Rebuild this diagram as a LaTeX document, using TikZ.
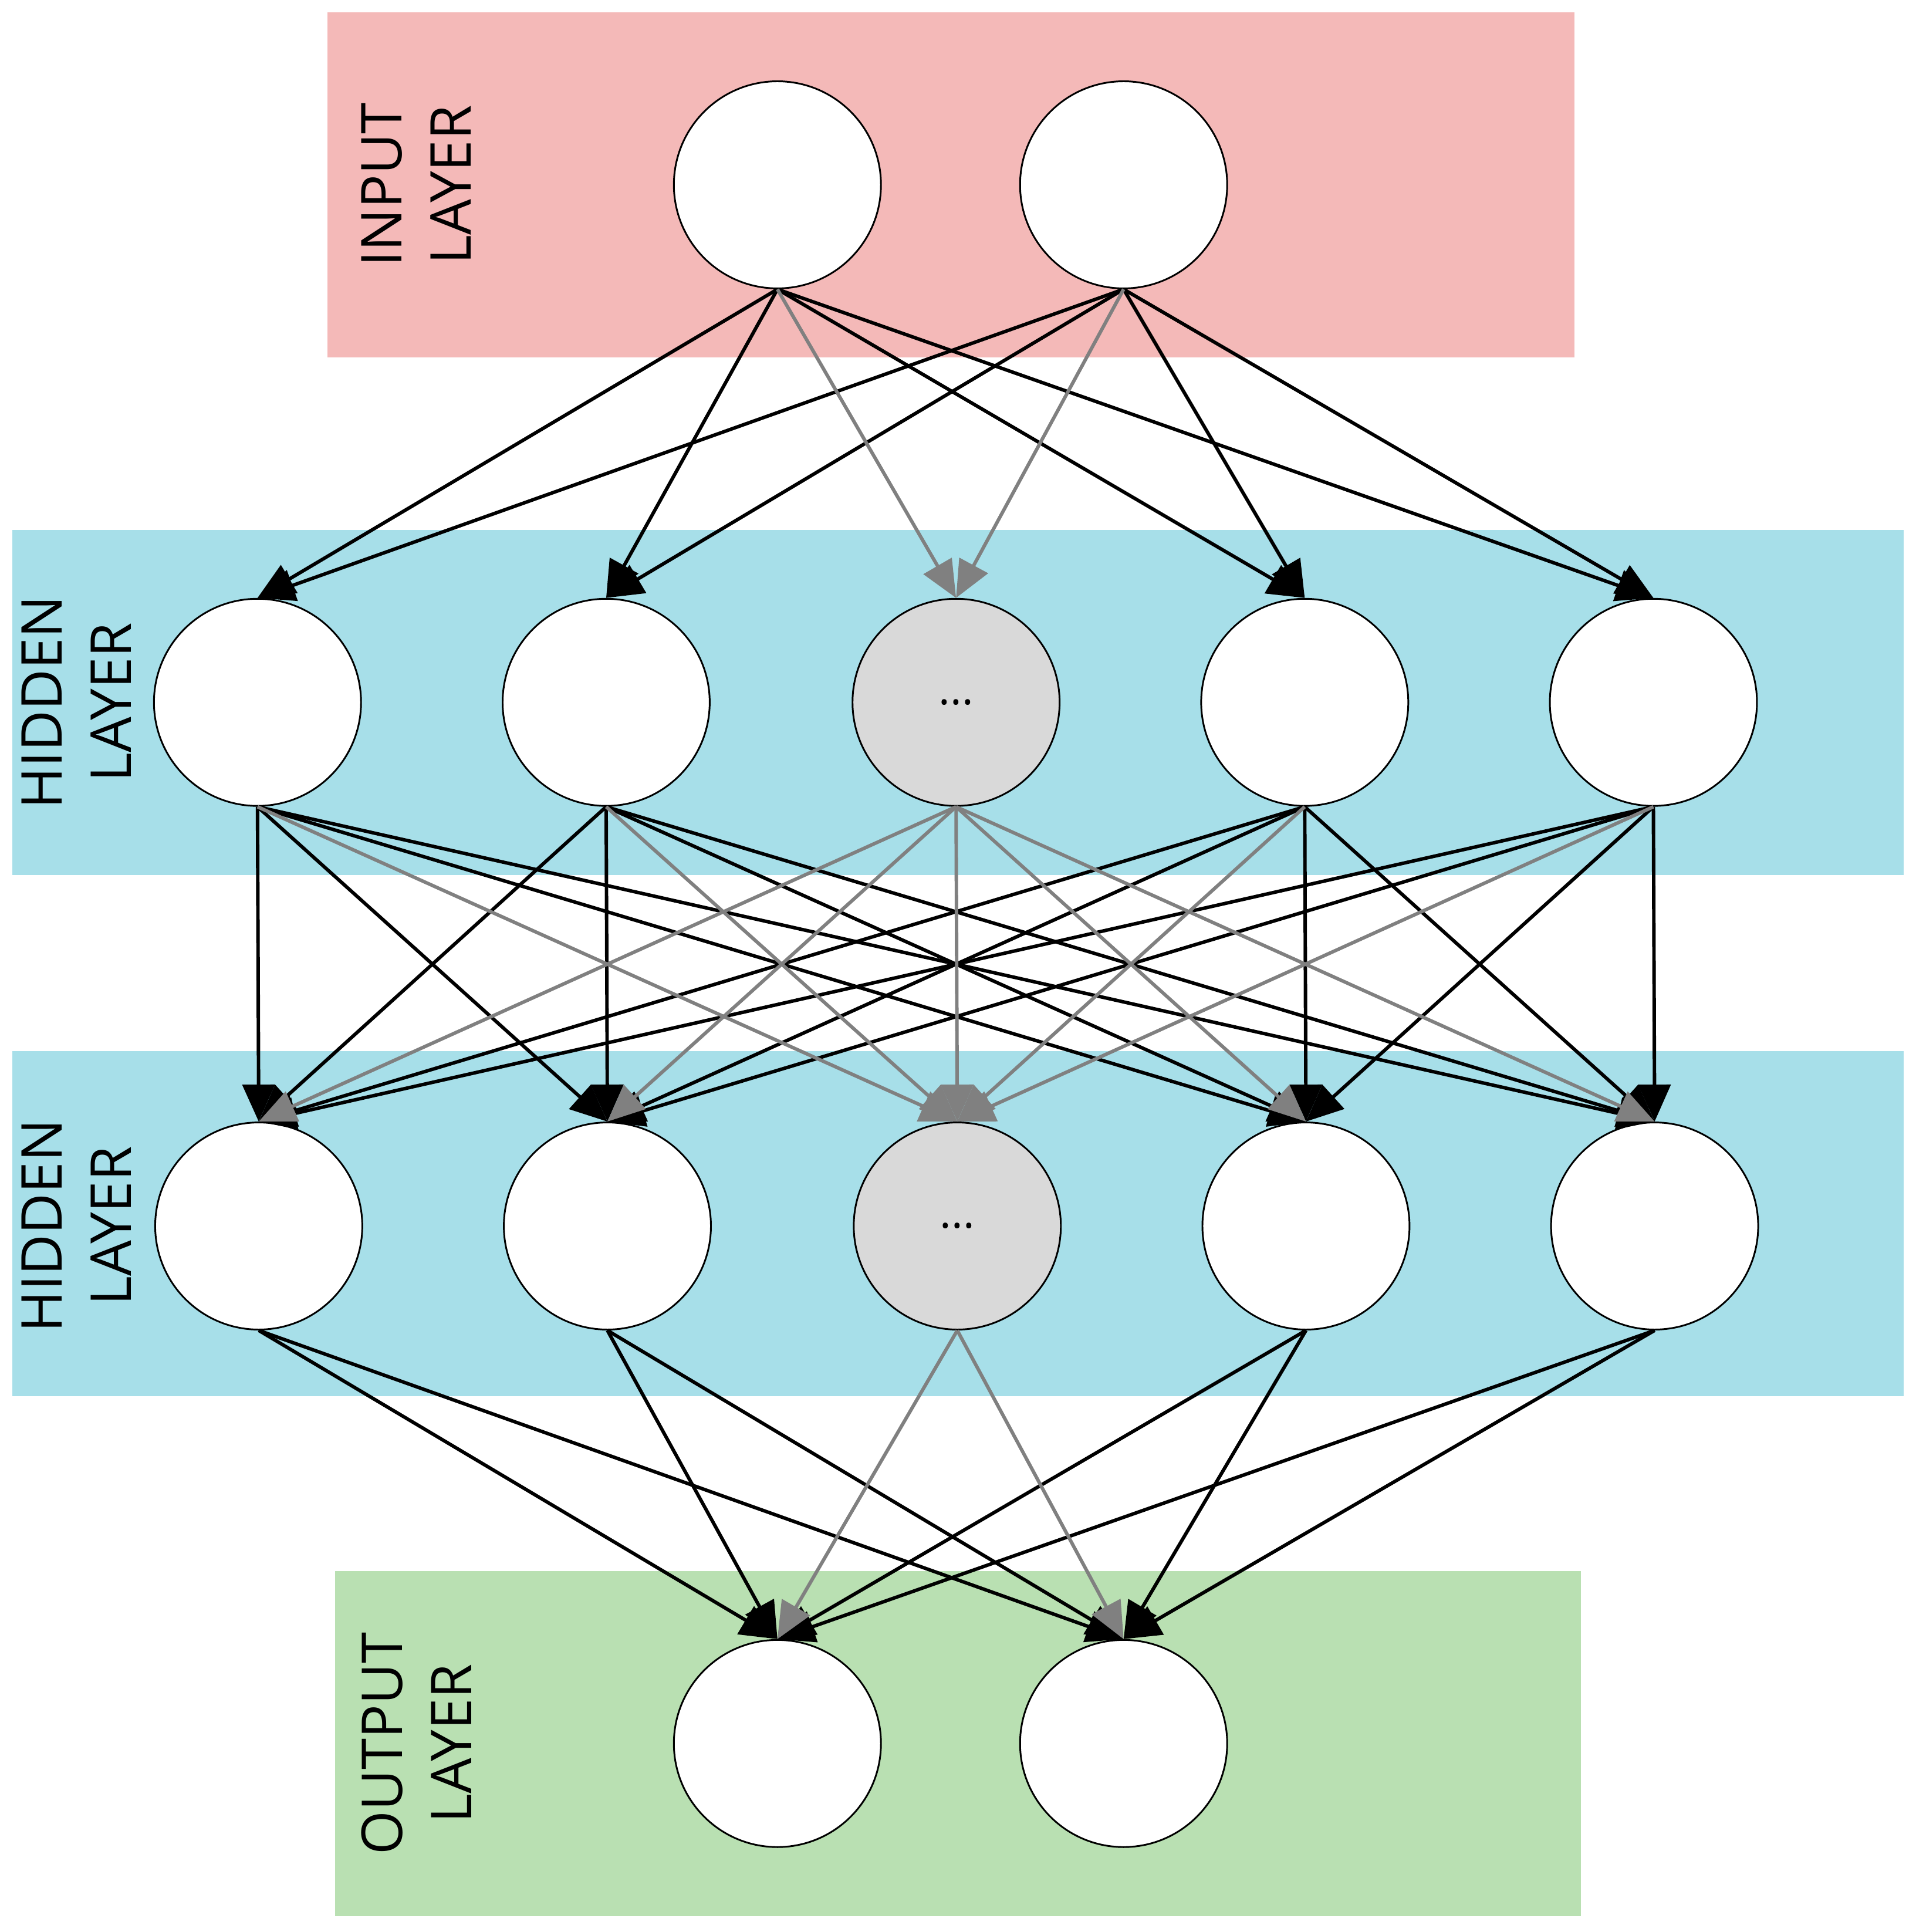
\documentclass[tikz,border=0pt]{standalone}
\usepackage{fontspec}
\setmainfont{Open Sans}
\usetikzlibrary{arrows.meta}
\definecolor{inpink}{RGB}{244,185,184}
\definecolor{hidblue}{RGB}{167,223,233}
\definecolor{outgreen}{RGB}{185,224,178}
\definecolor{midgray}{RGB}{217,217,217}
\begin{document}
\begin{tikzpicture}[x=0.01cm,y=-0.01cm,
    neuron/.style={circle,draw,line width=0.4pt,fill=white,minimum size=1.68cm,inner sep=0pt},
    midneuron/.style={neuron,fill=midgray},
    lbl/.style={rotate=90,align=center,font=\fontsize{13}{16}\selectfont},
    conn/.style={line width=0.8pt,-{Triangle[length=0.3cm,width=0.26cm]}},
    gconn/.style={conn,draw=gray}]
  \useasboundingbox (0,0) rectangle (1555,1568);
  % layer bands
  \fill[inpink] (266,10) rectangle (1278,290);
  \fill[hidblue] (10,430) rectangle (1545,710);
  \fill[hidblue] (10,853) rectangle (1545,1133);
  \fill[outgreen] (272,1275) rectangle (1283,1555);
  \node[lbl] (linput) at (338,150) {INPUT\\LAYER};
  \node[lbl] (lhid1) at (62,570) {HIDDEN\\LAYER};
  \node[lbl] (lhid2) at (62,995) {HIDDEN\\LAYER};
  \node[lbl] (loutput) at (338,1415) {OUTPUT\\LAYER};
  % neurons
  \node[neuron] (i1) at (631,150) {};
  \node[neuron] (i2) at (912,150) {};
  \foreach \x [count=\k] in {209,492,776,1059,1342} {
    \ifnum\k=3
      \node[midneuron] (a\k) at (\x,570) {...};
      \node[midneuron] (b\k) at (\x+1,995) {...};
    \else
      \node[neuron] (a\k) at (\x,570) {};
      \node[neuron] (b\k) at (\x+1,995) {};
    \fi
  }
  \node[neuron] (o1) at (631,1415) {};
  \node[neuron] (o2) at (912,1415) {};
  % connections
  \foreach \s in {1,2} \foreach \t in {1,2,4,5}
    \draw[conn] (i\s.south) -- (a\t.north);
  \foreach \s in {1,2} \draw[gconn] (i\s.south) -- (a3.north);
  \foreach \s in {1,2,4,5} \foreach \t in {1,2,4,5}
    \draw[conn] (a\s.south) -- (b\t.north);
  \foreach \s in {1,2,3,4,5} \draw[gconn] (a\s.south) -- (b3.north);
  \foreach \t in {1,2,4,5} \draw[gconn] (a3.south) -- (b\t.north);
  \foreach \s in {1,2,4,5} \foreach \t in {1,2}
    \draw[conn] (b\s.south) -- (o\t.north);
  \foreach \t in {1,2} \draw[gconn] (b3.south) -- (o\t.north);
\end{tikzpicture}
\end{document}
